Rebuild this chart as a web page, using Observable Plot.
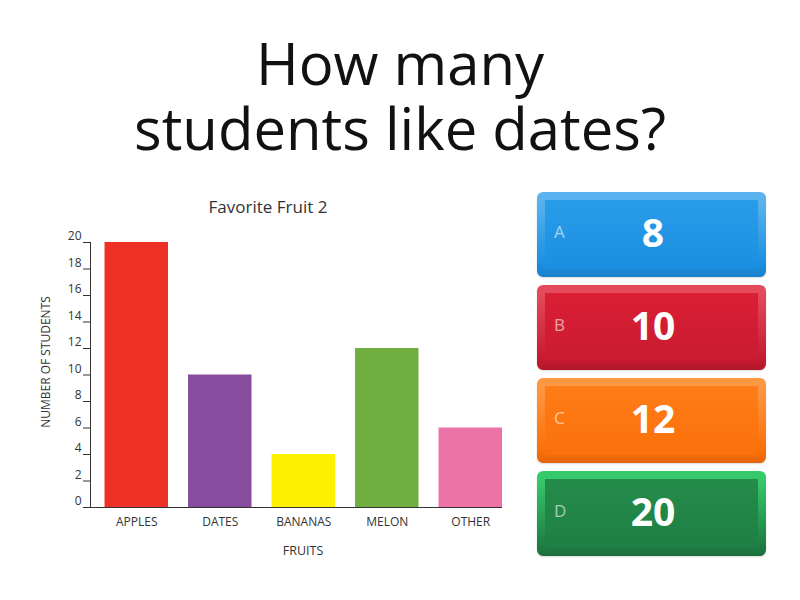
<!DOCTYPE html>
<html>
<head>
<meta charset="utf-8">
<script src="https://cdn.jsdelivr.net/npm/d3@7"></script>
<script src="https://cdn.jsdelivr.net/npm/@observablehq/plot@0.6"></script>
<style>
  html, body { margin: 0; padding: 0; background: #fff; }
  #page { position: relative; width: 800px; height: 600px; overflow: hidden; font-family: "Open Sans", sans-serif; }
  .tline { position: absolute; left: 0; width: 800px; height: 60px; text-align: center; font-size: 58px; line-height: 60px; color: #111; }
  #chartTitle { position: absolute; left: 118px; width: 300px; top: 195px; text-align: center; font-size: 17px; color: #333; }
  #chart { position: absolute; left: 0; top: 190px; }
  #ylabel { position: absolute; left: 45px; top: 362px; transform: translate(-50%, -50%) rotate(-90deg); font-size: 12px; color: #333; white-space: nowrap; }
  #xlabel { position: absolute; left: 253px; width: 100px; top: 542px; text-align: center; font-size: 12.5px; color: #333; }
  .btn { position: absolute; left: 537px; width: 229px; height: 85px; border-radius: 6px; box-shadow: 0 1px 2px rgba(0,0,0,0.15); }
  .btn .inner { position: absolute; left: 8px; right: 8px; top: 8px; bottom: 8px; }
  .btn .letter { position: absolute; left: 17px; top: 0; height: 85px; line-height: 80px; font-size: 17px; color: rgba(255,255,255,0.6); }
  .btn .ans { position: absolute; left: 0; width: 232px; top: 0; height: 85px; line-height: 79px; text-align: center; font-size: 39px; font-weight: 700; color: #fff; }
</style>
</head>
<body>
<div id="page">
  <div class="tline" style="top: 33px;">How many</div>
  <div class="tline" style="top: 98px;">students like dates?</div>
  <div id="chartTitle">Favorite Fruit 2</div>
  <div id="chart"></div>
  <div id="ylabel">NUMBER OF STUDENTS</div>
  <div id="xlabel">FRUITS</div>
</div>
<script>
const fruits = ["APPLES", "DATES", "BANANAS", "MELON", "OTHER"];
const students = [20, 10, 4, 12, 6];
const barColors = ["#ee3124", "#874c9e", "#fff200", "#71ae41", "#ec73a8"];
const yTicks = [0, 2, 4, 6, 8, 10, 12, 14, 16, 18, 20];

const answerLetters = ["A", "B", "C", "D"];
const answerValues = ["8", "10", "12", "20"];
const answerTop = ["#5ab3ee", "#e44a5c", "#ff9842", "#36c96b"];
const answerInnerA = ["#2a9de9", "#db1f35", "#fe7d18", "#248c4b"];
const answerInnerB = ["#1a8fe0", "#c81b30", "#fb700a", "#1f7f44"];
const answerBottom = ["#1b7fca", "#b0182a", "#e3650a", "#1b6f3c"];

const data = fruits.map((f, i) => ({fruit: f, n: students[i], color: barColors[i]}));

const chart = Plot.plot({
  width: 520,
  height: 380,
  marginLeft: 90,
  marginRight: 18,
  marginTop: 52,
  marginBottom: 63,
  style: {fontFamily: "Open Sans", fontSize: "12px", color: "#333", background: "transparent"},
  x: {domain: fruits, paddingInner: 0.24, paddingOuter: 0.087, align: 1, round: false, label: null},
  y: {domain: [0, 20], label: null},
  marks: [
    Plot.barY(data, {x: "fruit", y: "n", fill: "color"}),
    Plot.axisX({tickSize: 0, tickPadding: 10, label: null}),
    Plot.axisY({ticks: yTicks, tickSize: 7, tickFormat: () => "", label: null}),
    Plot.axisY({ticks: yTicks, tickSize: 0, tickPadding: 9, dy: -6, label: null}),
    Plot.ruleY([0], {stroke: "#333"}),
    Plot.frame({anchor: "left", stroke: "#333"})
  ]
});
document.getElementById("chart").appendChild(chart);

const page = document.getElementById("page");
answerValues.forEach((v, i) => {
  const b = document.createElement("div");
  b.className = "btn";
  b.style.top = (192 + i * 93) + "px";
  b.style.background = `linear-gradient(${answerTop[i]}, ${answerTop[i]} 10%, ${answerInnerB[i]} 85%, ${answerBottom[i]})`;
  const inner = document.createElement("div");
  inner.className = "inner";
  inner.style.background = `linear-gradient(${answerInnerA[i]}, ${answerInnerB[i]})`;
  b.appendChild(inner);
  const l = document.createElement("div");
  l.className = "letter";
  l.textContent = answerLetters[i];
  b.appendChild(l);
  const a = document.createElement("div");
  a.className = "ans";
  a.textContent = v;
  b.appendChild(a);
  page.appendChild(b);
});
</script>
</body>
</html>
